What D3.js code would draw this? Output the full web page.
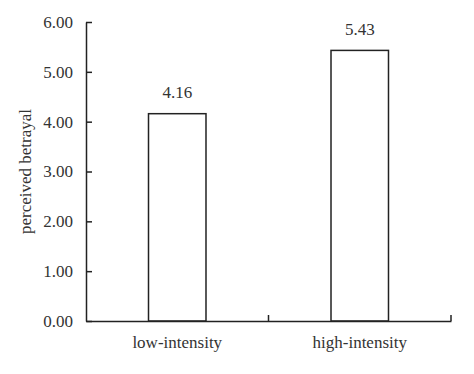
<!DOCTYPE html>
<html>
<head>
<meta charset="utf-8">
<script src="https://cdn.jsdelivr.net/npm/d3@7"></script>
<style>
  body { margin: 0; background: #fff; }
  text { font-family: "Liberation Serif", "Times New Roman", serif; fill: #333; }
</style>
</head>
<body>
<div id="mainDiv"></div>
<script>
'use strict';

// dados
var categories = ['low-intensity', 'high-intensity'];
var values = [4.16, 5.43];
var yTicks = [0, 1, 2, 3, 4, 5, 6];
var yLabel = 'perceived betrayal';

var chart = {};
chart.w = 474;
chart.h = 374;
chart.margins = {top: 22, bottom: 53, left: 86, right: 23};
chart.fontSize = 17;
chart.lineColor = '#222';

chart.run = function()
{
    var svg = d3.select('#mainDiv').append('svg')
        .attr('width', chart.w)
        .attr('height', chart.h);

    var x = d3.scaleBand()
        .domain(categories)
        .range([chart.margins.left, chart.w - chart.margins.right]);

    var y = d3.scaleLinear()
        .domain([0, 6])
        .range([chart.h - chart.margins.bottom, chart.margins.top]);

    var barW = x.bandwidth() * 0.315;

    // barras
    svg.append('g').selectAll('rect')
        .data(values)
        .enter()
        .append('rect')
        .attr('x', function(d, i){ return x(categories[i]) + (x.bandwidth() - barW) / 2; })
        .attr('y', function(d){ return y(d); })
        .attr('width', barW)
        .attr('height', function(d){ return y(0) - y(d); })
        .style('fill', '#fff')
        .style('stroke', chart.lineColor)
        .style('stroke-width', 1.5);

    // valores em cima das barras
    svg.append('g').selectAll('text')
        .data(values)
        .enter()
        .append('text')
        .attr('x', function(d, i){ return x(categories[i]) + x.bandwidth() / 2; })
        .attr('y', function(d){ return y(d) - 15.5; })
        .attr('text-anchor', 'middle')
        .style('font-size', chart.fontSize + 'px')
        .text(function(d){ return d.toFixed(2); });

    // eixo y
    var yAxis = svg.append('g')
        .attr('transform', 'translate(' + chart.margins.left + ',0)')
        .call(d3.axisLeft(y)
            .tickValues(yTicks)
            .tickSizeInner(-6)
            .tickSizeOuter(0)
            .tickPadding(13)
            .tickFormat(d3.format('.2f')));

    // eixo x
    var xAxis = svg.append('g')
        .attr('transform', 'translate(0,' + y(0) + ')')
        .call(d3.axisBottom(x).tickSize(0).tickPadding(15));

    xAxis.selectAll('.boundary')
        .data(categories)
        .enter()
        .append('line')
        .attr('class', 'boundary')
        .attr('x1', function(d){ return x(d) + x.step(); })
        .attr('x2', function(d){ return x(d) + x.step(); })
        .attr('y1', 0)
        .attr('y2', -6);

    [yAxis, xAxis].forEach(function(ax)
    {
        ax.selectAll('path, line')
            .style('stroke', chart.lineColor)
            .style('stroke-width', 1.5);
        ax.selectAll('text')
            .style('font-family', '"Liberation Serif", "Times New Roman", serif')
            .style('font-size', chart.fontSize + 'px')
            .style('fill', '#333');
    });

    // titulo do eixo y
    svg.append('text')
        .attr('transform', 'rotate(-90)')
        .attr('x', -(chart.margins.top + y(0)) / 2)
        .attr('y', 31)
        .attr('text-anchor', 'middle')
        .style('font-size', chart.fontSize + 'px')
        .text(yLabel);
}

window.onload = chart.run;
</script>
</body>
</html>
